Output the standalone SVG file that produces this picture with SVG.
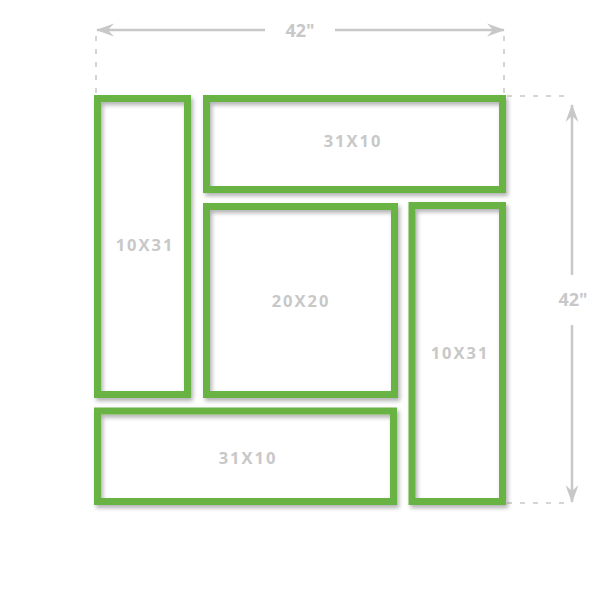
<svg xmlns="http://www.w3.org/2000/svg" width="600" height="600" viewBox="0 0 600 600">
<defs>
<filter id="sh" x="-10%" y="-10%" width="130%" height="130%">
<feDropShadow dx="2" dy="3" stdDeviation="2" flood-color="#000" flood-opacity="0.3"/>
</filter>
<marker id="ah" viewBox="0 0 20 14" refX="18" refY="7" markerWidth="20" markerHeight="14" markerUnits="userSpaceOnUse" orient="auto-start-reverse">
<path d="M19,7 L1,0.5 L7,7 L1,13.5 Z" fill="#c8c8c8"/>
</marker>
</defs>
<style>
.frame{fill:none;stroke:#69b344;stroke-width:7;filter:url(#sh)}
.lbl{font-family:"Open Sans","Liberation Sans",sans-serif;font-weight:700;font-size:16.5px;fill:#c8c8c8;text-anchor:middle;letter-spacing:2px}
.dim{font-family:"Open Sans","Liberation Sans",sans-serif;font-weight:700;font-size:18px;fill:#c8c8c8;text-anchor:middle}
.dl{stroke:#c8c8c8;stroke-width:2.5;fill:none}
.dash{stroke:#c8c8c8;stroke-width:1.5;fill:none;stroke-dasharray:5 8}
</style>
<rect width="600" height="600" fill="#fff"/>
<g id="connectors">
<line class="dash" x1="96" y1="36" x2="96" y2="95"/>
<line class="dash" x1="504" y1="36" x2="504" y2="95"/>
<line class="dash" x1="507" y1="96" x2="572" y2="96"/>
<line class="dash" x1="507" y1="503" x2="572" y2="503"/>
<line class="dl" x1="97" y1="30" x2="265" y2="30" marker-start="url(#ah)"/>
<line class="dl" x1="335" y1="30" x2="504" y2="30" marker-end="url(#ah)"/>
<line class="dl" x1="572" y1="105" x2="572" y2="275" marker-start="url(#ah)"/>
<line class="dl" x1="572" y1="325" x2="572" y2="502" marker-end="url(#ah)"/>
<text class="dim" x="300" y="37">42"</text>
<text class="dim" x="573" y="306">42"</text>
</g>
<g id="left-tall">
<rect class="frame" x="97.5" y="98.5" width="90" height="296"/>
<text class="lbl" x="145" y="251">10X31</text>
</g>
<g id="top-wide">
<rect class="frame" x="206.5" y="98.5" width="296" height="91"/>
<text class="lbl" x="353" y="147">31X10</text>
</g>
<g id="center-square">
<rect class="frame" x="206.5" y="206.5" width="188" height="188"/>
<text class="lbl" x="301" y="307">20X20</text>
</g>
<g id="right-tall">
<rect class="frame" x="412" y="205.5" width="90.5" height="296"/>
<text class="lbl" x="460" y="359">10X31</text>
</g>
<g id="bottom-wide">
<rect class="frame" x="97.5" y="411" width="296" height="90.5"/>
<text class="lbl" x="248" y="464">31X10</text>
</g>
</svg>
